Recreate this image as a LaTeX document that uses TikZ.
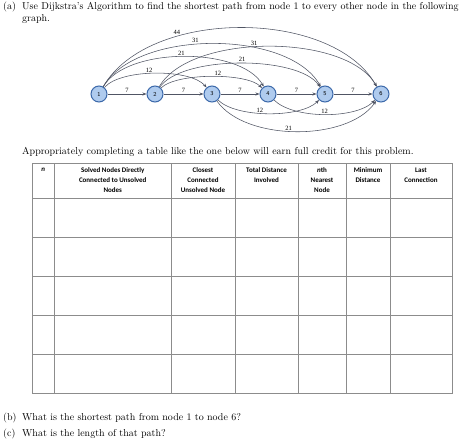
\documentclass[tikz,border=0pt]{standalone}
\usepackage{fontspec}
\newfontfamily\calibri{Carlito}
\newfontfamily\timesf{Liberation Serif}
\usetikzlibrary{arrows.meta}
\definecolor{nodef}{RGB}{175,203,238}
\definecolor{nodeb}{RGB}{60,105,170}
\definecolor{edgec}{RGB}{80,85,100}
\definecolor{gridc}{RGB}{140,140,140}
\begin{document}
\begin{tikzpicture}[x=1pt,y=1pt,
 gnode/.style={circle,draw=nodeb,fill=nodef,line width=1pt,minimum size=16pt,inner sep=0pt,font=\sffamily\fontsize{6}{6}\selectfont},
 edge/.style={draw=edgec,line width=0.55pt,-{Stealth[length=4pt,width=3pt]}},
 wlab/.style={font=\timesf\fontsize{6.5}{6.5}\selectfont,inner sep=1pt},
 hdr/.style={anchor=north,align=center,font=\calibri\bfseries\fontsize{7}{10}\selectfont,inner sep=0pt},
 grid/.style={draw=gridc,line width=0.8pt},
 txt/.style={anchor=base west,inner sep=0pt}
]
\useasboundingbox (0,0) rectangle (474,-445);

% text
\node[txt] (ta) at (3,-9.5) {(a)};
\node[txt] (ta1) at (22,-9.5) {Use Dijkstra's Algorithm to find the shortest path from node 1 to every other node in the following};
\node[txt] (ta2) at (22,-21.5) {graph.};
\node[txt] (tp) at (22,-154.3) {Appropriately completing a table like the one below will earn full credit for this problem.};
\node[txt] (tb) at (3,-420) {(b)};
\node[txt] (tb1) at (22,-420) {What is the shortest path from node 1 to node 6?};
\node[txt] (tc) at (3,-436.7) {(c)};
\node[txt] (tc1) at (22,-436.7) {What is the length of that path?};

% graph
\node[gnode] (n1) at (99,-94) {1};
\node[gnode] (n2) at (155,-94) {2};
\node[gnode] (n3) at (212,-94) {3};
\node[gnode] (n4) at (268,-94) {4};
\node[gnode] (n5) at (325,-94) {5};
\node[gnode] (n6) at (381,-94) {6};

\draw[edge] (n1) -- node[wlab,above]{7} (n2);
\draw[edge] (n2) -- node[wlab,above]{7} (n3);
\draw[edge] (n3) -- node[wlab,above]{7} (n4);
\draw[edge] (n4) -- node[wlab,above]{7} (n5);
\draw[edge] (n5) -- node[wlab,above]{7} (n6);

\draw[edge] (n1) to[out=50,in=130,looseness=0.62] node[wlab,pos=0.45,above]{12} (n3);
\draw[edge] (n2) to[out=45,in=135,looseness=0.55] node[wlab,pos=0.55,above]{12} (n4);
\draw[edge] (n1) to[out=60,in=120,looseness=0.74] node[wlab,pos=0.49,above]{21} (n4);
\draw[edge] (n2) to[out=55,in=125,looseness=0.62] node[wlab,pos=0.51,above]{21} (n5);
\draw[edge] (n1) to[out=60,in=120,looseness=0.78] node[wlab,pos=0.44,above]{31} (n5);
\draw[edge] (n2) to[out=60,in=120,looseness=0.73] node[wlab,pos=0.45,above]{31} (n6);
\draw[edge] (n1) to[out=60,in=120,looseness=0.85] node[wlab,pos=0.31,above]{44} (n6);
\draw[edge] (n3) to[out=-45,in=-135,looseness=0.65] node[wlab,pos=0.43,above]{12} (n5);
\draw[edge] (n4) to[out=-45,in=-135,looseness=0.69] node[wlab,pos=0.5,above]{12} (n6);
\draw[edge] (n3) to[out=-55,in=-125,looseness=0.8] node[wlab,pos=0.46,above]{21} (n6);

% table
\draw[grid] (32,-163) rectangle (452,-393);
\foreach \x in {54.5,171,235,298,346,390} \draw[grid] (\x,-163) -- (\x,-393);
\foreach \y in {198,237,276,315,354} \draw[grid] (32,-\y) -- (452,-\y);

\node[hdr] (h1) at (43.25,-167.5) {\itshape n};
\node[hdr] (h2) at (112.75,-167.5) {Solved Nodes Directly\\Connected to Unsolved\\Nodes};
\node[hdr] (h3) at (203,-167.5) {Closest\\Connected\\Unsolved Node};
\node[hdr] (h4) at (266.5,-167.5) {Total Distance\\Involved};
\node[hdr] (h5) at (322,-167.5) {\textit{n}th\\Nearest\\Node};
\node[hdr] (h6) at (368,-167.5) {Minimum\\Distance};
\node[hdr] (h7) at (421,-167.5) {Last\\Connection};
\end{tikzpicture}
\end{document}
